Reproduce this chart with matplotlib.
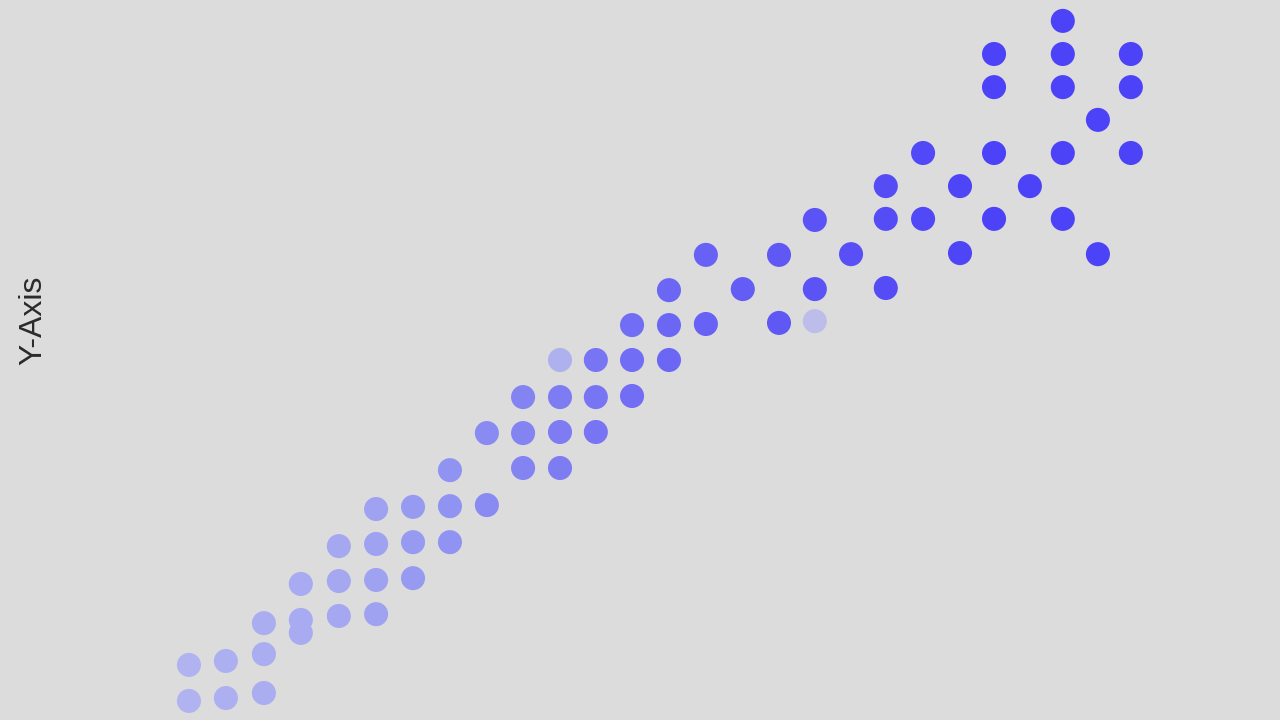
import numpy as np
import matplotlib.pyplot as plt
from matplotlib.colors import LinearSegmentedColormap

# scatter points (grid units)
x_vals = [0, 0,
          1.02, 1.02,
          2.07, 2.07, 2.07,
          3.09, 3.09, 3.09,
          4.14, 4.14, 4.14,
          5.17, 5.17, 5.17, 5.17,
          6.19, 6.19, 6.19,
          7.21, 7.21, 7.21,
          8.23, 8.23,
          9.23, 9.23, 9.23,
          10.25, 10.25, 10.25,
          11.24, 11.24, 11.24,
          12.24, 12.24, 12.24,
          13.26, 13.26, 13.26,
          14.28, 14.28,
          15.3,
          16.3, 16.3,
          17.29, 17.29,
          18.29,
          19.25, 19.25, 19.25,
          20.28, 20.28,
          21.3, 21.3,
          22.24, 22.24, 22.24, 22.24,
          23.23,
          24.14, 24.14, 24.14, 24.14, 24.14,
          25.11, 25.11,
          26.02, 26.02, 26.02]
y_vals = [0.53, 1.53,
          0.61, 1.64,
          0.75, 1.83, 2.69,
          2.42, 2.78, 3.78,
          2.89, 3.86, 4.83,
          2.94, 3.89, 4.89, 5.86,
          3.94, 4.94, 5.92,
          4.94, 5.94, 6.94,
          5.97, 7.97,
          7.0, 7.97, 8.97,
          7.0, 8.0, 8.97,
          8.0, 8.97, 10.0,
          9.0, 10.0, 10.97,
          10.0, 10.97, 11.94,
          11.0, 12.92,
          11.97,
          11.03, 12.92,
          11.97, 13.89,
          12.94,
          12.0, 13.92, 14.83,
          13.92, 15.75,
          12.97, 14.83,
          13.92, 15.75, 17.58, 18.5,
          14.83,
          13.92, 15.75, 17.58, 18.5, 19.42,
          12.94, 16.67,
          15.75, 17.58, 18.5]

# points still fading in
fading_x = [10.25, 17.29]
fading_y = [10.0, 11.08]

cmap = LinearSegmentedColormap.from_list(
    "fade", ["#b0b3f0", "#a4a7f1", "#8587f2", "#6c66f4", "#5a52f6", "#4c42f7"])

fig = plt.figure(figsize=(12.8, 7.2), dpi=100)
fig.patch.set_facecolor("#dcdcdc")
ax = fig.add_axes([0, 0, 1, 1])
ax.set_facecolor("#dcdcdc")

x = np.array(x_vals)
y = np.array(y_vals)
ax.scatter(x, y, s=300, c=np.clip(x / 22, 0, 1), cmap=cmap, vmin=0, vmax=1,
           edgecolors="none")
ax.scatter(fading_x, fading_y, s=300, color=["#aeb1ee", "#bcbdea"],
           edgecolors="none")

ax.set_xlim(-5.22, 30.14)
ax.set_ylim(0, 20)
for s in ax.spines.values():
    s.set_visible(False)
ax.set_xticks([])
ax.set_yticks([])

fig.text(0.026, 0.555, "Y-Axis", rotation=90, fontsize=23, color="#2a2a2a",
         family="Liberation Sans", ha="center", va="center")

fig.savefig("out.png", dpi=100, facecolor=fig.get_facecolor())
